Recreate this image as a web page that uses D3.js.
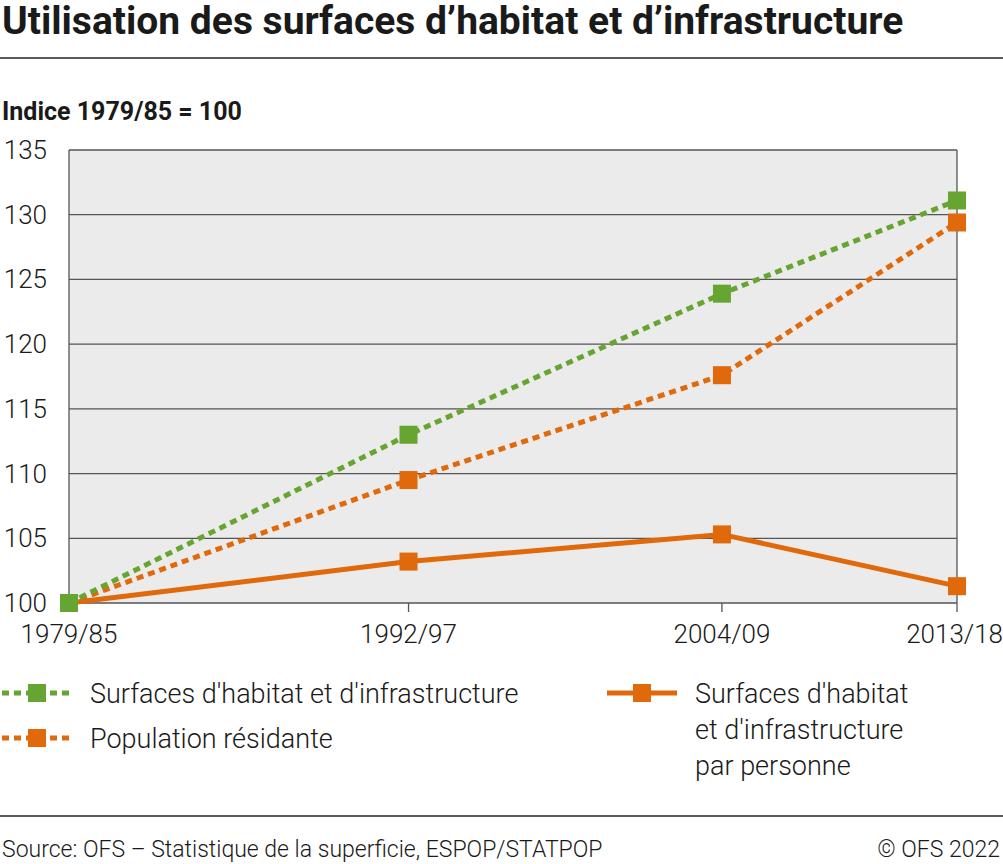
<!DOCTYPE html>
<html>
<head>
<meta charset="UTF-8">
<style>
  body { margin: 0; background: #fff; font-family: Roboto, sans-serif; }
  svg text { fill: #1a1a1a; }
</style>
</head>
<body>
<svg width="1003" height="864"></svg>
<script src="https://d3js.org/d3.v7.min.js"></script>
<script>
// données
const periods = ["1979/85", "1992/97", "2004/09", "2013/18"];
const startYears = [1979, 1992, 2004, 2013];
const surfaces = [100, 113.0, 123.9, 131.1];
const population = [100, 109.5, 117.6, 129.4];
const parPersonne = [100, 103.2, 105.3, 101.3];
const yTicks = [100, 105, 110, 115, 120, 125, 130, 135];

const green = "#66a531", orange = "#e0690b";
const svg = d3.select("svg");

svg.append("text").attr("x", 2).attr("y", 34)
  .attr("font-size", 39).attr("font-weight", 700).text("Utilisation des surfaces d’habitat et d’infrastructure");
svg.append("line").attr("x1", 0).attr("x2", 1003).attr("y1", 58).attr("y2", 58).attr("stroke", "#222").attr("stroke-width", 1.5);
svg.append("text").attr("x", 2).attr("y", 120).attr("font-size", 25).attr("font-weight", 700).text("Indice 1979/85 = 100");

const x = d3.scaleLinear().domain([1979, 2013]).range([69, 957]);
const y = d3.scaleLinear().domain([100, 135]).range([603, 150]);

svg.append("rect").attr("x", 69).attr("y", 150).attr("width", 888).attr("height", 453).attr("fill", "#ebebeb");

const g = svg.append("g");
g.selectAll(".grid").data(yTicks).enter().append("line")
  .attr("x1", 69).attr("x2", 957).attr("y1", d => y(d)).attr("y2", d => y(d))
  .attr("stroke", "#555").attr("stroke-width", 1.3);
svg.append("line").attr("x1", 69).attr("x2", 69).attr("y1", 150).attr("y2", 603).attr("stroke", "#555").attr("stroke-width", 1.3);
svg.append("line").attr("x1", 957).attr("x2", 957).attr("y1", 150).attr("y2", 603).attr("stroke", "#555").attr("stroke-width", 1.3);
g.selectAll(".xt").data(startYears).enter().append("line")
  .attr("x1", d => x(d)).attr("x2", d => x(d)).attr("y1", 603).attr("y2", 612)
  .attr("stroke", "#555").attr("stroke-width", 1.3);

g.selectAll(".yl").data(yTicks).enter().append("text")
  .attr("x", 47).attr("y", d => y(d) + 9).attr("text-anchor", "end")
  .attr("font-size", 26).attr("font-weight", 300).text(d => d);
g.selectAll(".xl").data(periods).enter().append("text")
  .attr("x", (d, i) => i === 3 ? 1003 : x(startYears[i])).attr("y", 643)
  .attr("text-anchor", (d, i) => i === 3 ? "end" : "middle")
  .attr("font-size", 26).attr("font-weight", 300).text(d => d);

const line = d3.line().x((d, i) => x(startYears[i])).y(d => y(d));
function series(vals, color, dash) {
  svg.append("path").datum(vals).attr("d", line).attr("fill", "none")
    .attr("stroke", color).attr("stroke-width", 5).attr("stroke-dasharray", dash);
  svg.selectAll(null).data(vals).enter().append("rect")
    .attr("x", (d, i) => x(startYears[i]) - 9).attr("y", d => y(d) - 9)
    .attr("width", 18).attr("height", 18).attr("fill", color);
}
series(parPersonne, orange, null);
series(population, orange, "7,5");
series(surfaces, green, "7,5");

// légende
function legendItem(x0, yy, color, dash, lines) {
  svg.append("line").attr("x1", x0).attr("x2", x0 + 70).attr("y1", yy).attr("y2", yy)
    .attr("stroke", color).attr("stroke-width", 5).attr("stroke-dasharray", dash);
  svg.append("rect").attr("x", x0 + 26).attr("y", yy - 9).attr("width", 18).attr("height", 18).attr("fill", color);
  lines.forEach((t, i) => svg.append("text").attr("x", x0 + 88).attr("y", yy + 10 + i * 36)
    .attr("font-size", 27).attr("font-weight", 300).text(t));
}
legendItem(2, 693, green, "7,5", ["Surfaces d'habitat et d'infrastructure"]);
legendItem(2, 738, orange, "7,5", ["Population résidante"]);
legendItem(607, 693, orange, null, ["Surfaces d'habitat", "et d'infrastructure", "par personne"]);

svg.append("line").attr("x1", 0).attr("x2", 1003).attr("y1", 816).attr("y2", 816).attr("stroke", "#222").attr("stroke-width", 1.5);
svg.append("text").attr("x", 2).attr("y", 857).attr("font-size", 23).attr("font-weight", 300)
  .text("Source: OFS – Statistique de la superficie, ESPOP/STATPOP");
svg.append("text").attr("x", 1000).attr("y", 857).attr("text-anchor", "end").attr("font-size", 23).attr("font-weight", 300)
  .text("© OFS 2022");
</script>
</body>
</html>
